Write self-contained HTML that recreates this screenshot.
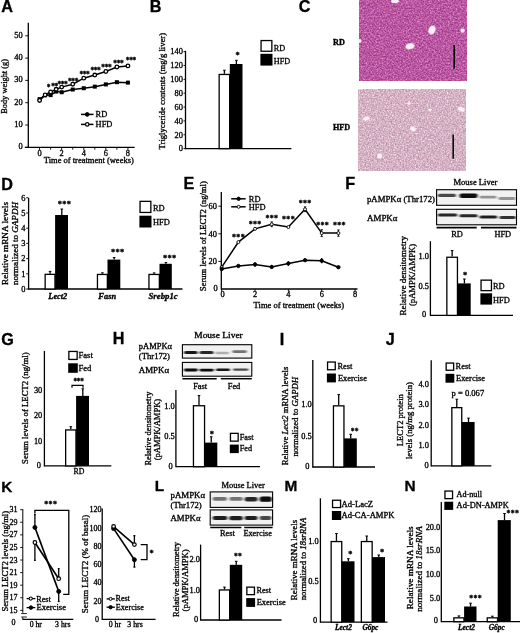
<!DOCTYPE html>
<html lang="en">
<head>
<meta charset="utf-8">
<title>Figure</title>
<style>
html,body{margin:0;padding:0;background:#fff;}
body{width:520px;height:633px;overflow:hidden;}
svg{display:block;}
svg text{stroke:#000;stroke-width:0.32px;}
svg{font-family:"Liberation Serif","Times New Roman",serif;font-size:8.4px;fill:#000;}
</style>
</head>
<body>
<svg width="520" height="633" viewBox="0 0 520 633">
<defs>
<filter id="b06" x="-30%" y="-30%" width="160%" height="160%"><feGaussianBlur stdDeviation="0.6"/></filter>
<filter id="b08" x="-20%" y="-60%" width="140%" height="220%"><feGaussianBlur stdDeviation="1.0 0.55"/></filter>
<filter id="nzA" x="0" y="0" width="100%" height="100%" color-interpolation-filters="sRGB">
<feTurbulence type="fractalNoise" baseFrequency="0.62" numOctaves="3" seed="7"/>
<feColorMatrix type="matrix" values="1.55 0 0 0 -0.275  1.55 0 0 0 -0.275  1.55 0 0 0 -0.275  0 0 0 0 1"/>
<feComponentTransfer>
<feFuncR type="table" tableValues="0.557 0.733 0.902"/>
<feFuncG type="table" tableValues="0.196 0.337 0.549"/>
<feFuncB type="table" tableValues="0.525 0.631 0.800"/>
</feComponentTransfer>
</filter>
<filter id="nzB" x="0" y="0" width="100%" height="100%" color-interpolation-filters="sRGB">
<feTurbulence type="fractalNoise" baseFrequency="0.66" numOctaves="3" seed="3"/>
<feColorMatrix type="matrix" values="1.5 0 0 0 -0.250  1.5 0 0 0 -0.250  1.5 0 0 0 -0.250  0 0 0 0 1"/>
<feComponentTransfer>
<feFuncR type="table" tableValues="0.714 0.835 0.965"/>
<feFuncG type="table" tableValues="0.541 0.698 0.886"/>
<feFuncB type="table" tableValues="0.659 0.765 0.914"/>
</feComponentTransfer>
</filter>

</defs>
<rect x="0" y="0" width="520" height="633" fill="#fff"/>
<g id="fig">
<!-- panel_C -->
<g>
<text x="298.8" y="12" font-size="16.2" font-weight="bold" font-family="'Liberation Sans',Arial,sans-serif">C</text>
<text x="333" y="45.2" font-size="8.2" font-weight="bold">RD</text>
<text x="333" y="129.9" font-size="8.2" font-weight="bold">HFD</text>
<rect x="359" y="0" width="107.5" height="80.3" fill="#c163ad"/>
<rect x="359" y="0" width="107.5" height="80.3" filter="url(#nzA)"/>
<ellipse cx="432" cy="30" rx="3.4" ry="4.6" fill="#fbeef6" transform="rotate(25 432 30)" filter="url(#b06)"/>
<ellipse cx="410" cy="46.2" rx="4.6" ry="3.0" fill="#fbeef6" transform="rotate(-10 410 46.2)" filter="url(#b06)"/>
<ellipse cx="462.6" cy="30.6" rx="2.2" ry="2.2" fill="#fbeef6" transform="rotate(0 462.6 30.6)" filter="url(#b06)"/>
<ellipse cx="395" cy="1.2" rx="4" ry="1.8" fill="#fbeef6" transform="rotate(0 395 1.2)" filter="url(#b06)"/>
<ellipse cx="360" cy="41" rx="1.5" ry="2" fill="#fbeef6" transform="rotate(0 360 41)" filter="url(#b06)"/>
<line x1="454.2" y1="45" x2="454.2" y2="68.8" stroke="#000" stroke-width="1.5"/>
<rect x="358.2" y="89.5" width="107.8" height="80.7" fill="#dcb9cb"/>
<rect x="358.2" y="89.5" width="107.8" height="80.7" filter="url(#nzB)"/>
<ellipse cx="366.4" cy="118.6" rx="3.4" ry="2.0" fill="#fbf1f4" transform="rotate(-15 366.4 118.6)" filter="url(#b06)"/>
<ellipse cx="413" cy="128.8" rx="3.0" ry="2.4" fill="#fbf1f4" transform="rotate(20 413 128.8)" filter="url(#b06)"/>
<ellipse cx="461.4" cy="109.2" rx="3.6" ry="2.2" fill="#fbf1f4" transform="rotate(25 461.4 109.2)" filter="url(#b06)"/>
<ellipse cx="379.6" cy="155.8" rx="2.6" ry="2.6" fill="#fbf1f4" transform="rotate(0 379.6 155.8)" filter="url(#b06)"/>
<ellipse cx="409" cy="103.5" rx="1.6" ry="1.3" fill="#fbf1f4" transform="rotate(0 409 103.5)" filter="url(#b06)"/>
<ellipse cx="430" cy="110" rx="1.5" ry="1.3" fill="#fbf1f4" transform="rotate(0 430 110)" filter="url(#b06)"/>
<line x1="453.2" y1="134.5" x2="453.2" y2="158.8" stroke="#000" stroke-width="1.5"/>
</g>
<!-- panel_A -->
<g>
<text x="1.2" y="12.2" font-size="16.2" font-weight="bold" font-family="'Liberation Sans',Arial,sans-serif">A</text>
<line x1="28.3" y1="22.8" x2="28.3" y2="147.95" stroke="#000" stroke-width="1.3"/>
<line x1="25.2" y1="147.3" x2="28.3" y2="147.3" stroke="#000" stroke-width="0.9"/>
<line x1="25.2" y1="125" x2="28.3" y2="125" stroke="#000" stroke-width="0.9"/>
<line x1="25.2" y1="102.7" x2="28.3" y2="102.7" stroke="#000" stroke-width="0.9"/>
<line x1="25.2" y1="80.4" x2="28.3" y2="80.4" stroke="#000" stroke-width="0.9"/>
<line x1="25.2" y1="58.1" x2="28.3" y2="58.1" stroke="#000" stroke-width="0.9"/>
<line x1="25.2" y1="35.8" x2="28.3" y2="35.8" stroke="#000" stroke-width="0.9"/>
<text x="22.7" y="149.27" text-anchor="end">0</text>
<text x="22.7" y="126.97" text-anchor="end">10</text>
<text x="22.7" y="104.67" text-anchor="end">20</text>
<text x="22.7" y="82.37" text-anchor="end">30</text>
<text x="22.7" y="60.07" text-anchor="end">40</text>
<text x="22.7" y="37.77" text-anchor="end">50</text>
<line x1="24.8" y1="147.3" x2="134.6" y2="147.3" stroke="#000" stroke-width="1.3"/>
<line x1="39.6" y1="147.3" x2="39.6" y2="150.3" stroke="#000" stroke-width="0.9"/>
<text x="39.6" y="156.4" text-anchor="middle">0</text>
<line x1="61.68" y1="147.3" x2="61.68" y2="150.3" stroke="#000" stroke-width="0.9"/>
<text x="61.68" y="156.4" text-anchor="middle">2</text>
<line x1="83.76" y1="147.3" x2="83.76" y2="150.3" stroke="#000" stroke-width="0.9"/>
<text x="83.76" y="156.4" text-anchor="middle">4</text>
<line x1="105.84" y1="147.3" x2="105.84" y2="150.3" stroke="#000" stroke-width="0.9"/>
<text x="105.84" y="156.4" text-anchor="middle">6</text>
<line x1="127.92" y1="147.3" x2="127.92" y2="150.3" stroke="#000" stroke-width="0.9"/>
<text x="127.92" y="156.4" text-anchor="middle">8</text>
<line x1="50.64" y1="147.3" x2="50.64" y2="149.7" stroke="#000" stroke-width="0.9"/>
<line x1="72.72" y1="147.3" x2="72.72" y2="149.7" stroke="#000" stroke-width="0.9"/>
<line x1="94.8" y1="147.3" x2="94.8" y2="149.7" stroke="#000" stroke-width="0.9"/>
<line x1="116.88" y1="147.3" x2="116.88" y2="149.7" stroke="#000" stroke-width="0.9"/>
<text x="43.8" y="163.1" textLength="90" lengthAdjust="spacingAndGlyphs">Time of treatment (weeks)</text>
<text transform="translate(4.9,86.4) rotate(-90)" y="2.44" text-anchor="middle">Body weight (g)</text>
<polyline points="39.6,99.13 45.12,95.34 50.64,95.12 56.16,91.55 61.68,92.22 72.72,89.54 83.76,88.21 94.8,86.64 105.84,84.41 116.88,82.18 127.92,82.63" fill="none" stroke="#000" stroke-width="1.5"/>
<polyline points="39.6,100.47 45.12,94.9 50.64,92 56.16,89.32 61.68,87.09 72.72,84.19 83.76,78.17 94.8,75.05 105.84,71.48 116.88,67.02 127.92,65.91" fill="none" stroke="#000" stroke-width="1.5"/>
<rect x="37.6" y="97.13" width="4" height="4" fill="#000"/>
<rect x="43.12" y="93.34" width="4" height="4" fill="#000"/>
<rect x="48.64" y="93.12" width="4" height="4" fill="#000"/>
<rect x="54.16" y="89.55" width="4" height="4" fill="#000"/>
<rect x="59.68" y="90.22" width="4" height="4" fill="#000"/>
<rect x="70.72" y="87.54" width="4" height="4" fill="#000"/>
<rect x="81.76" y="86.21" width="4" height="4" fill="#000"/>
<rect x="92.8" y="84.64" width="4" height="4" fill="#000"/>
<rect x="103.84" y="82.41" width="4" height="4" fill="#000"/>
<rect x="114.88" y="80.18" width="4" height="4" fill="#000"/>
<rect x="125.92" y="80.63" width="4" height="4" fill="#000"/>
<circle cx="39.6" cy="100.47" r="1.8" fill="#fff" stroke="#000" stroke-width="1.3"/>
<circle cx="45.12" cy="94.9" r="1.8" fill="#fff" stroke="#000" stroke-width="1.3"/>
<circle cx="50.64" cy="92" r="1.8" fill="#fff" stroke="#000" stroke-width="1.3"/>
<circle cx="56.16" cy="89.32" r="1.8" fill="#fff" stroke="#000" stroke-width="1.3"/>
<circle cx="61.68" cy="87.09" r="1.8" fill="#fff" stroke="#000" stroke-width="1.3"/>
<circle cx="72.72" cy="84.19" r="1.8" fill="#fff" stroke="#000" stroke-width="1.3"/>
<circle cx="83.76" cy="78.17" r="1.8" fill="#fff" stroke="#000" stroke-width="1.3"/>
<circle cx="94.8" cy="75.05" r="1.8" fill="#fff" stroke="#000" stroke-width="1.3"/>
<circle cx="105.84" cy="71.48" r="1.8" fill="#fff" stroke="#000" stroke-width="1.3"/>
<circle cx="116.88" cy="67.02" r="1.8" fill="#fff" stroke="#000" stroke-width="1.3"/>
<circle cx="127.92" cy="65.91" r="1.8" fill="#fff" stroke="#000" stroke-width="1.3"/>
<text x="48.7" y="90.07" font-size="7.4" text-anchor="middle" font-weight="bold">*</text>
<text x="54.5" y="89.07" font-size="7.4" text-anchor="middle" font-weight="bold" letter-spacing="-0.4">**</text>
<text x="62.4" y="86.97" font-size="7.4" text-anchor="middle" font-weight="bold" letter-spacing="-0.4">***</text>
<text x="73" y="83.67" font-size="7.4" text-anchor="middle" font-weight="bold" letter-spacing="-0.4">***</text>
<text x="84.4" y="76.97" font-size="7.4" text-anchor="middle" font-weight="bold" letter-spacing="-0.4">***</text>
<text x="95.4" y="73.17" font-size="7.4" text-anchor="middle" font-weight="bold" letter-spacing="-0.4">***</text>
<text x="106.3" y="69.87" font-size="7.4" text-anchor="middle" font-weight="bold" letter-spacing="-0.4">***</text>
<text x="118.3" y="65.77" font-size="7.4" text-anchor="middle" font-weight="bold" letter-spacing="-0.4">***</text>
<text x="130.8" y="63.27" font-size="7.4" text-anchor="middle" font-weight="bold" letter-spacing="-0.4">***</text>
<line x1="81" y1="114.4" x2="93.5" y2="114.4" stroke="#000" stroke-width="1.5"/>
<circle cx="87.2" cy="114.4" r="1.9" fill="#000" stroke="#000" stroke-width="0.9"/>
<text x="95.6" y="117.2">RD</text>
<line x1="81" y1="124.4" x2="93.5" y2="124.4" stroke="#000" stroke-width="1.5"/>
<circle cx="87.2" cy="124.4" r="1.7" fill="#fff" stroke="#000" stroke-width="1.2"/>
<text x="95.6" y="127.2">HFD</text>
</g>
<!-- panel_B -->
<g>
<text x="149.8" y="12.2" font-size="16.2" font-weight="bold" font-family="'Liberation Sans',Arial,sans-serif">B</text>
<line x1="185.5" y1="50.8" x2="185.5" y2="149.25" stroke="#000" stroke-width="1.3"/>
<line x1="183.5" y1="148.6" x2="185.5" y2="148.6" stroke="#000" stroke-width="0.9"/>
<text x="182.9" y="151.37" text-anchor="end">0</text>
<line x1="183.5" y1="134.75" x2="185.5" y2="134.75" stroke="#000" stroke-width="0.9"/>
<text x="182.9" y="137.52" text-anchor="end">20</text>
<line x1="183.5" y1="120.9" x2="185.5" y2="120.9" stroke="#000" stroke-width="0.9"/>
<text x="182.9" y="123.67" text-anchor="end">40</text>
<line x1="183.5" y1="107.05" x2="185.5" y2="107.05" stroke="#000" stroke-width="0.9"/>
<text x="182.9" y="109.82" text-anchor="end">60</text>
<line x1="183.5" y1="93.2" x2="185.5" y2="93.2" stroke="#000" stroke-width="0.9"/>
<text x="182.9" y="95.97" text-anchor="end">80</text>
<line x1="183.5" y1="79.35" x2="185.5" y2="79.35" stroke="#000" stroke-width="0.9"/>
<text x="182.9" y="82.12" text-anchor="end">100</text>
<line x1="183.5" y1="65.5" x2="185.5" y2="65.5" stroke="#000" stroke-width="0.9"/>
<text x="182.9" y="68.27" text-anchor="end">120</text>
<line x1="183.5" y1="51.65" x2="185.5" y2="51.65" stroke="#000" stroke-width="0.9"/>
<text x="182.9" y="54.42" text-anchor="end">140</text>
<line x1="185.5" y1="148.6" x2="291.4" y2="148.6" stroke="#000" stroke-width="1.3"/>
<line x1="224.4" y1="70.2" x2="224.4" y2="73.8" stroke="#000" stroke-width="1.3"/>
<line x1="223.1" y1="70.2" x2="225.7" y2="70.2" stroke="#000" stroke-width="1"/>
<rect x="219.15" y="74.45" width="10.5" height="74.15" fill="#fff" stroke="#000" stroke-width="1.3"/>
<line x1="236.4" y1="60.3" x2="236.4" y2="64" stroke="#000" stroke-width="1.3"/>
<line x1="235.1" y1="60.3" x2="237.7" y2="60.3" stroke="#000" stroke-width="1"/>
<rect x="229.8" y="64" width="12.7" height="84.6" fill="#000"/>
<text x="237.6" y="57.82" text-anchor="middle" font-weight="bold">*</text>
<text transform="translate(162.9,91.2) rotate(-90)" y="2.44" text-anchor="middle" textLength="116.5" lengthAdjust="spacingAndGlyphs">Triglyceride contents (mg/g liver)</text>
<rect x="261.05" y="40.55" width="10.8" height="10.7" fill="#fff" stroke="#000" stroke-width="1.3"/>
<rect x="260.4" y="53.8" width="12.1" height="11.8" fill="#000"/>
<text x="273.8" y="50.8" font-size="8.2">RD</text>
<text x="273.8" y="64.4" font-size="8.2">HFD</text>
</g>
<!-- panel_D -->
<g>
<text x="1.2" y="189.6" font-size="16.2" font-weight="bold" font-family="'Liberation Sans',Arial,sans-serif">D</text>
<line x1="28.6" y1="198" x2="28.6" y2="289.65" stroke="#000" stroke-width="1.3"/>
<line x1="26.2" y1="289" x2="28.6" y2="289" stroke="#000" stroke-width="0.9"/>
<text x="25.4" y="291.77" text-anchor="end">0</text>
<line x1="26.2" y1="273.8" x2="28.6" y2="273.8" stroke="#000" stroke-width="0.9"/>
<text x="25.4" y="276.57" text-anchor="end">1</text>
<line x1="26.2" y1="258.6" x2="28.6" y2="258.6" stroke="#000" stroke-width="0.9"/>
<text x="25.4" y="261.37" text-anchor="end">2</text>
<line x1="26.2" y1="243.4" x2="28.6" y2="243.4" stroke="#000" stroke-width="0.9"/>
<text x="25.4" y="246.17" text-anchor="end">3</text>
<line x1="26.2" y1="228.2" x2="28.6" y2="228.2" stroke="#000" stroke-width="0.9"/>
<text x="25.4" y="230.97" text-anchor="end">4</text>
<line x1="26.2" y1="213" x2="28.6" y2="213" stroke="#000" stroke-width="0.9"/>
<text x="25.4" y="215.77" text-anchor="end">5</text>
<line x1="26.2" y1="197.8" x2="28.6" y2="197.8" stroke="#000" stroke-width="0.9"/>
<text x="25.4" y="200.57" text-anchor="end">6</text>
<line x1="28.6" y1="289" x2="182.5" y2="289" stroke="#000" stroke-width="1.3"/>
<text transform="translate(5.6,243.5) rotate(-90)" y="2.44" text-anchor="middle" textLength="83" lengthAdjust="spacingAndGlyphs">Relative mRNA levels</text>
<text transform="translate(15.6,243.5) rotate(-90)" y="2.44" text-anchor="middle" textLength="83" lengthAdjust="spacingAndGlyphs">normalized to <tspan font-style="italic">GAPDH</tspan></text>
<line x1="50.05" y1="271.4" x2="50.05" y2="273.7" stroke="#000" stroke-width="1.3"/>
<line x1="48.75" y1="271.4" x2="51.35" y2="271.4" stroke="#000" stroke-width="1"/>
<rect x="45.15" y="274.35" width="9.8" height="14.65" fill="#fff" stroke="#000" stroke-width="1.3"/>
<line x1="61.8" y1="209" x2="61.8" y2="215" stroke="#000" stroke-width="1.3"/>
<line x1="60.5" y1="209" x2="63.1" y2="209" stroke="#000" stroke-width="1"/>
<rect x="55.1" y="215" width="12.9" height="74" fill="#000"/>
<text x="64.55" y="207.12" text-anchor="middle" font-weight="bold" letter-spacing="0.3">***</text>
<line x1="102.4" y1="272.8" x2="102.4" y2="273.8" stroke="#000" stroke-width="1.3"/>
<line x1="101.1" y1="272.8" x2="103.7" y2="272.8" stroke="#000" stroke-width="1"/>
<rect x="97.45" y="274.45" width="9.9" height="14.55" fill="#fff" stroke="#000" stroke-width="1.3"/>
<line x1="114.15" y1="257.6" x2="114.15" y2="259.6" stroke="#000" stroke-width="1.3"/>
<line x1="112.85" y1="257.6" x2="115.45" y2="257.6" stroke="#000" stroke-width="1"/>
<rect x="107.5" y="259.6" width="12.8" height="29.4" fill="#000"/>
<text x="117.65" y="255.32" text-anchor="middle" font-weight="bold" letter-spacing="0.3">***</text>
<line x1="154.15" y1="272.9" x2="154.15" y2="273.8" stroke="#000" stroke-width="1.3"/>
<line x1="152.85" y1="272.9" x2="155.45" y2="272.9" stroke="#000" stroke-width="1"/>
<rect x="148.95" y="274.45" width="10.4" height="14.55" fill="#fff" stroke="#000" stroke-width="1.3"/>
<line x1="165.9" y1="262.6" x2="165.9" y2="263.8" stroke="#000" stroke-width="1.3"/>
<line x1="164.6" y1="262.6" x2="167.2" y2="262.6" stroke="#000" stroke-width="1"/>
<rect x="159.5" y="263.8" width="12.3" height="25.2" fill="#000"/>
<text x="169.65" y="260.82" text-anchor="middle" font-weight="bold" letter-spacing="0.3">***</text>
<text x="48.3" y="299.1" font-size="8" font-weight="bold" font-style="italic" textLength="19" lengthAdjust="spacingAndGlyphs">Lect2</text>
<text x="98.3" y="299.1" font-size="8" font-weight="bold" font-style="italic" textLength="17.8" lengthAdjust="spacingAndGlyphs">Fasn</text>
<text x="148.5" y="299.1" font-size="8" font-weight="bold" font-style="italic" textLength="29.2" lengthAdjust="spacingAndGlyphs">Srebp1c</text>
<rect x="140.05" y="201.35" width="10.8" height="11.1" fill="#fff" stroke="#000" stroke-width="1.3"/>
<rect x="139.4" y="215.7" width="12.1" height="11.8" fill="#000"/>
<text x="153" y="211.2">RD</text>
<text x="153" y="225">HFD</text>
</g>
<!-- panel_E -->
<g>
<text x="183.5" y="189.4" font-size="16.2" font-weight="bold" font-family="'Liberation Sans',Arial,sans-serif">E</text>
<line x1="221.3" y1="192" x2="221.3" y2="289.65" stroke="#000" stroke-width="1.3"/>
<line x1="218.3" y1="261.4" x2="221.3" y2="261.4" stroke="#000" stroke-width="0.9"/>
<text x="216.9" y="264.17" text-anchor="end">20</text>
<line x1="218.3" y1="233.8" x2="221.3" y2="233.8" stroke="#000" stroke-width="0.9"/>
<text x="216.9" y="236.57" text-anchor="end">40</text>
<line x1="218.3" y1="206.2" x2="221.3" y2="206.2" stroke="#000" stroke-width="0.9"/>
<text x="216.9" y="208.97" text-anchor="end">60</text>
<text x="217.7" y="290.6" text-anchor="end">0</text>
<line x1="221.3" y1="289" x2="357.5" y2="289" stroke="#000" stroke-width="1.3"/>
<line x1="221.7" y1="289" x2="221.7" y2="291.6" stroke="#000" stroke-width="0.9"/>
<text x="222.7" y="297.2" text-anchor="middle">0</text>
<line x1="255.04" y1="289" x2="255.04" y2="291.6" stroke="#000" stroke-width="0.9"/>
<text x="255.04" y="297.2" text-anchor="middle">2</text>
<line x1="288.38" y1="289" x2="288.38" y2="291.6" stroke="#000" stroke-width="0.9"/>
<text x="288.38" y="297.2" text-anchor="middle">4</text>
<line x1="321.72" y1="289" x2="321.72" y2="291.6" stroke="#000" stroke-width="0.9"/>
<text x="321.72" y="297.2" text-anchor="middle">6</text>
<line x1="355.06" y1="289" x2="355.06" y2="291.6" stroke="#000" stroke-width="0.9"/>
<text x="355.06" y="297.2" text-anchor="middle">8</text>
<text x="253.6" y="307.9" textLength="90.6" lengthAdjust="spacingAndGlyphs">Time of treatment (weeks)</text>
<text transform="translate(203.2,236.2) rotate(-90)" y="2.44" text-anchor="middle" textLength="110" lengthAdjust="spacingAndGlyphs">Serum levels of LECT2 (ng/ml)</text>
<line x1="271.71" y1="221.88" x2="271.71" y2="226.68" stroke="#000" stroke-width="1"/>
<line x1="270.51" y1="221.88" x2="272.91" y2="221.88" stroke="#000" stroke-width="0.8"/>
<line x1="270.51" y1="226.68" x2="272.91" y2="226.68" stroke="#000" stroke-width="0.8"/>
<line x1="305.05" y1="206.84" x2="305.05" y2="211.64" stroke="#000" stroke-width="1"/>
<line x1="303.85" y1="206.84" x2="306.25" y2="206.84" stroke="#000" stroke-width="0.8"/>
<line x1="303.85" y1="211.64" x2="306.25" y2="211.64" stroke="#000" stroke-width="0.8"/>
<line x1="321.72" y1="229.61" x2="321.72" y2="236.61" stroke="#000" stroke-width="1"/>
<line x1="320.52" y1="229.61" x2="322.92" y2="229.61" stroke="#000" stroke-width="0.8"/>
<line x1="320.52" y1="236.61" x2="322.92" y2="236.61" stroke="#000" stroke-width="0.8"/>
<line x1="338.39" y1="229.91" x2="338.39" y2="236.31" stroke="#000" stroke-width="1"/>
<line x1="337.19" y1="229.91" x2="339.59" y2="229.91" stroke="#000" stroke-width="0.8"/>
<line x1="337.19" y1="236.31" x2="339.59" y2="236.31" stroke="#000" stroke-width="0.8"/>
<line x1="255.04" y1="262.24" x2="255.04" y2="266.64" stroke="#000" stroke-width="1.2"/>
<line x1="271.71" y1="265.12" x2="271.71" y2="268.72" stroke="#000" stroke-width="1.2"/>
<line x1="288.38" y1="261.27" x2="288.38" y2="265.67" stroke="#000" stroke-width="1.2"/>
<line x1="321.72" y1="258.11" x2="321.72" y2="263.31" stroke="#000" stroke-width="1.2"/>
<polyline points="221.7,267.2 238.37,242.08 255.04,228.83 271.71,224.28 288.38,227.04 305.05,209.24 321.72,233.11 338.39,233.11" fill="none" stroke="#000" stroke-width="1.5"/>
<polyline points="221.7,268.99 238.37,265.95 255.04,264.44 271.71,266.92 288.38,263.47 305.05,260.16 321.72,260.71 338.39,267.2" fill="none" stroke="#000" stroke-width="1.5"/>
<circle cx="221.7" cy="267.2" r="1.5" fill="#fff" stroke="#000" stroke-width="0.9"/>
<circle cx="238.37" cy="242.08" r="1.5" fill="#fff" stroke="#000" stroke-width="0.9"/>
<circle cx="255.04" cy="228.83" r="1.5" fill="#fff" stroke="#000" stroke-width="0.9"/>
<circle cx="271.71" cy="224.28" r="1.5" fill="#fff" stroke="#000" stroke-width="0.9"/>
<circle cx="288.38" cy="227.04" r="1.5" fill="#fff" stroke="#000" stroke-width="0.9"/>
<circle cx="305.05" cy="209.24" r="1.5" fill="#fff" stroke="#000" stroke-width="0.9"/>
<circle cx="321.72" cy="233.11" r="1.5" fill="#fff" stroke="#000" stroke-width="0.9"/>
<circle cx="338.39" cy="233.11" r="1.5" fill="#fff" stroke="#000" stroke-width="0.9"/>
<circle cx="221.7" cy="268.99" r="1.7" fill="#000" stroke="#000" stroke-width="0.9"/>
<circle cx="238.37" cy="265.95" r="1.7" fill="#000" stroke="#000" stroke-width="0.9"/>
<circle cx="255.04" cy="264.44" r="1.7" fill="#000" stroke="#000" stroke-width="0.9"/>
<circle cx="271.71" cy="266.92" r="1.7" fill="#000" stroke="#000" stroke-width="0.9"/>
<circle cx="288.38" cy="263.47" r="1.7" fill="#000" stroke="#000" stroke-width="0.9"/>
<circle cx="305.05" cy="260.16" r="1.7" fill="#000" stroke="#000" stroke-width="0.9"/>
<circle cx="321.72" cy="260.71" r="1.7" fill="#000" stroke="#000" stroke-width="0.9"/>
<circle cx="338.39" cy="267.2" r="1.7" fill="#000" stroke="#000" stroke-width="0.9"/>
<text x="238.52" y="240.2" font-size="8" text-anchor="middle" font-weight="bold" letter-spacing="0.3">***</text>
<text x="255.19" y="227" font-size="8" text-anchor="middle" font-weight="bold" letter-spacing="0.3">***</text>
<text x="271.86" y="221.2" font-size="8" text-anchor="middle" font-weight="bold" letter-spacing="0.3">***</text>
<text x="288.53" y="222.4" font-size="8" text-anchor="middle" font-weight="bold" letter-spacing="0.3">***</text>
<text x="305.2" y="206.2" font-size="8" text-anchor="middle" font-weight="bold" letter-spacing="0.3">***</text>
<text x="322.67" y="228.2" font-size="8" text-anchor="middle" font-weight="bold" letter-spacing="0.3">***</text>
<text x="339.34" y="228.2" font-size="8" text-anchor="middle" font-weight="bold" letter-spacing="0.3">***</text>
<line x1="231.2" y1="198.8" x2="245.6" y2="198.8" stroke="#000" stroke-width="1.5"/>
<circle cx="238.6" cy="198.8" r="1.7" fill="#000" stroke="#000" stroke-width="0.9"/>
<text x="248.8" y="201.6">RD</text>
<line x1="231.2" y1="206.8" x2="245.6" y2="206.8" stroke="#000" stroke-width="1.5"/>
<circle cx="238.6" cy="206.8" r="1.5" fill="#fff" stroke="#000" stroke-width="0.9"/>
<text x="248.8" y="209.6">HFD</text>
</g>
<!-- panel_F -->
<g>
<text x="345.2" y="189.4" font-size="16.2" font-weight="bold" font-family="'Liberation Sans',Arial,sans-serif">F</text>
<text x="367" y="202.4" textLength="68" lengthAdjust="spacingAndGlyphs">pAMPKα (Thr172)</text>
<text x="367" y="221.2" textLength="30.5" lengthAdjust="spacingAndGlyphs">AMPKα</text>
<text x="475.4" y="184.6" text-anchor="middle" textLength="44" lengthAdjust="spacingAndGlyphs">Mouse Liver</text>
<rect x="436.6" y="189.7" width="79.9" height="15.6" fill="#f1f1f1"/>
<rect x="437.8" y="193.7" width="18.2" height="3.4" rx="1.7" fill="rgb(71,71,71)" filter="url(#b08)"/>
<rect x="459.4" y="193.6" width="18.2" height="4.4" rx="2.2" fill="rgb(12,12,12)" filter="url(#b08)"/>
<rect x="479.5" y="195.8" width="16.9" height="2.8" rx="1.4" fill="rgb(147,147,147)" filter="url(#b08)"/>
<rect x="498.5" y="197.1" width="16.9" height="2.8" rx="1.4" fill="rgb(147,147,147)" filter="url(#b08)"/>
<rect x="436.6" y="189.7" width="79.9" height="15.6" fill="none" stroke="#000" stroke-width="1.1"/>
<rect x="436.6" y="209.3" width="79.9" height="15.5" fill="#f1f1f1"/>
<rect x="437.8" y="213.6" width="19.5" height="3" rx="1.5" fill="rgb(38,38,38)" filter="url(#b08)"/>
<rect x="459.4" y="214.2" width="18.2" height="3" rx="1.5" fill="rgb(38,38,38)" filter="url(#b08)"/>
<rect x="479.5" y="215.4" width="17.7" height="3.2" rx="1.6" fill="rgb(30,30,30)" filter="url(#b08)"/>
<rect x="499.4" y="215.9" width="16.4" height="3" rx="1.5" fill="rgb(51,51,51)" filter="url(#b08)"/>
<rect x="436.6" y="209.3" width="79.9" height="15.5" fill="none" stroke="#000" stroke-width="1.1"/>
<line x1="436.6" y1="227.6" x2="476.7" y2="227.6" stroke="#000" stroke-width="1.6"/>
<line x1="481" y1="227.6" x2="516.5" y2="227.6" stroke="#000" stroke-width="1.6"/>
<text x="457" y="237.2" text-anchor="middle">RD</text>
<text x="502.8" y="237.2" text-anchor="middle">HFD</text>
<line x1="430.4" y1="241.2" x2="430.4" y2="316.05" stroke="#000" stroke-width="1.3"/>
<text x="429" y="259.17" text-anchor="end">1.0</text>
<text x="429" y="288.67" text-anchor="end">0.5</text>
<text x="426.2" y="317.4" text-anchor="end">0</text>
<line x1="430.4" y1="315.4" x2="513" y2="315.4" stroke="#000" stroke-width="1.3"/>
<line x1="452.15" y1="250.6" x2="452.15" y2="256.6" stroke="#000" stroke-width="1.3"/>
<line x1="450.85" y1="250.6" x2="453.45" y2="250.6" stroke="#000" stroke-width="1"/>
<rect x="446.85" y="257.25" width="10.6" height="58.15" fill="#fff" stroke="#000" stroke-width="1.3"/>
<line x1="464.4" y1="279" x2="464.4" y2="283.4" stroke="#000" stroke-width="1.3"/>
<line x1="463.1" y1="279" x2="465.7" y2="279" stroke="#000" stroke-width="1"/>
<rect x="457.6" y="283.4" width="13.1" height="32" fill="#000"/>
<text x="465.2" y="277.82" text-anchor="middle" font-weight="bold">*</text>
<text transform="translate(403.2,275.8) rotate(-90)" y="2.44" text-anchor="middle" textLength="79.5" lengthAdjust="spacingAndGlyphs">Relative densitometry</text>
<text transform="translate(412.6,275) rotate(-90)" y="2.44" text-anchor="middle" textLength="62" lengthAdjust="spacingAndGlyphs">(pAMPK/AMPK)</text>
<rect x="481.05" y="280.15" width="10.4" height="10.5" fill="#fff" stroke="#000" stroke-width="1.3"/>
<rect x="480.4" y="293.3" width="11.7" height="11.3" fill="#000"/>
<text x="493" y="289.4">RD</text>
<text x="493" y="302.8">HFD</text>
</g>
<!-- panel_G -->
<g>
<text x="1.2" y="345.4" font-size="16.2" font-weight="bold" font-family="'Liberation Sans',Arial,sans-serif">G</text>
<line x1="44.4" y1="350.9" x2="44.4" y2="466.55" stroke="#000" stroke-width="1.3"/>
<text x="42.3" y="443.87" text-anchor="end">10</text>
<text x="42.3" y="418.47" text-anchor="end">20</text>
<text x="42.3" y="393.07" text-anchor="end">30</text>
<text x="41" y="467.9" text-anchor="end">0</text>
<line x1="44.4" y1="465.9" x2="111.3" y2="465.9" stroke="#000" stroke-width="1.3"/>
<line x1="70.8" y1="426.7" x2="70.8" y2="429.3" stroke="#000" stroke-width="1.3"/>
<line x1="69.5" y1="426.7" x2="72.1" y2="426.7" stroke="#000" stroke-width="1"/>
<rect x="65.65" y="429.95" width="10.3" height="35.95" fill="#fff" stroke="#000" stroke-width="1.3"/>
<line x1="82.8" y1="388.8" x2="82.8" y2="395.9" stroke="#000" stroke-width="1.3"/>
<line x1="81.5" y1="388.8" x2="84.1" y2="388.8" stroke="#000" stroke-width="1"/>
<rect x="76.1" y="395.9" width="12.9" height="70" fill="#000"/>
<polyline points="72,387.8 72,385.4 83,385.4 83,387.8" fill="none" stroke="#000" stroke-width="1.2"/>
<text x="78.5" y="383.76" font-size="7.2" text-anchor="middle" font-weight="bold" letter-spacing="-0.2">***</text>
<rect x="68.85" y="351.45" width="8.3" height="8" fill="#fff" stroke="#000" stroke-width="1.3"/>
<rect x="68.2" y="363.3" width="9.6" height="9.5" fill="#000"/>
<text x="78.5" y="357.7" font-size="8.6">Fast</text>
<text x="78.5" y="370.6" font-size="8.6">Fed</text>
<text x="79" y="474" font-size="7.8" text-anchor="middle">RD</text>
<text transform="translate(25.5,408.2) rotate(-90)" y="2.44" text-anchor="middle" textLength="111.5" lengthAdjust="spacingAndGlyphs">Serum levels of LECT2 (ng/ml)</text>
</g>
<!-- panel_H -->
<g>
<text x="112.8" y="344.4" font-size="16.2" font-weight="bold" font-family="'Liberation Sans',Arial,sans-serif">H</text>
<text x="218.5" y="338" text-anchor="middle" textLength="48.5" lengthAdjust="spacingAndGlyphs">Mouse Liver</text>
<text x="138.8" y="348.8" textLength="33.2" lengthAdjust="spacingAndGlyphs">pAMPKα</text>
<text x="138.8" y="358.6" textLength="31.2" lengthAdjust="spacingAndGlyphs">(Thr172)</text>
<text x="138.8" y="372.8" textLength="30.3" lengthAdjust="spacingAndGlyphs">AMPKα</text>
<rect x="182.4" y="344.7" width="69.4" height="13.4" fill="#f1f1f1"/>
<rect x="184" y="350.9" width="13.6" height="3.2" rx="1.6" fill="rgb(25,25,25)" filter="url(#b08)"/>
<rect x="199.5" y="350.9" width="14.1" height="3.2" rx="1.6" fill="rgb(38,38,38)" filter="url(#b08)"/>
<rect x="215.4" y="351.8" width="13.6" height="2.4" rx="1.2" fill="rgb(173,173,173)" filter="url(#b08)"/>
<rect x="232.4" y="350.3" width="14.4" height="2.6" rx="1.3" fill="rgb(114,114,114)" filter="url(#b08)"/>
<rect x="182.4" y="344.7" width="69.4" height="13.4" fill="none" stroke="#000" stroke-width="1.1"/>
<rect x="182.4" y="362.4" width="69.4" height="13.8" fill="#f1f1f1"/>
<rect x="184" y="368.6" width="13.8" height="2.8" rx="1.4" fill="rgb(12,12,12)" filter="url(#b08)"/>
<rect x="199.5" y="368.7" width="14.3" height="2.8" rx="1.4" fill="rgb(12,12,12)" filter="url(#b08)"/>
<rect x="216" y="368.5" width="14" height="2.6" rx="1.3" fill="rgb(25,25,25)" filter="url(#b08)"/>
<rect x="233" y="368.5" width="15.4" height="2.2" rx="1.1" fill="rgb(76,76,76)" filter="url(#b08)"/>
<rect x="182.4" y="362.4" width="69.4" height="13.8" fill="none" stroke="#000" stroke-width="1.1"/>
<line x1="182.4" y1="378.7" x2="216.7" y2="378.7" stroke="#000" stroke-width="1.5"/>
<line x1="220.8" y1="378.7" x2="251.8" y2="378.7" stroke="#000" stroke-width="1.5"/>
<text x="200.2" y="389.2" text-anchor="middle">Fast</text>
<text x="234" y="389.2" text-anchor="middle">Fed</text>
<line x1="175.9" y1="390" x2="175.9" y2="467.35" stroke="#000" stroke-width="1.3"/>
<text x="174.7" y="408.97" text-anchor="end">1.0</text>
<text x="174.7" y="439.22" text-anchor="end">0.5</text>
<text x="172.7" y="468.9" text-anchor="end">0</text>
<line x1="175.9" y1="466.7" x2="260" y2="466.7" stroke="#000" stroke-width="1.3"/>
<line x1="199" y1="395.6" x2="199" y2="405.1" stroke="#000" stroke-width="1.3"/>
<line x1="197.7" y1="395.6" x2="200.3" y2="395.6" stroke="#000" stroke-width="1"/>
<rect x="193.45" y="405.75" width="11.1" height="60.95" fill="#fff" stroke="#000" stroke-width="1.3"/>
<line x1="211.25" y1="436.8" x2="211.25" y2="442.6" stroke="#000" stroke-width="1.3"/>
<line x1="209.95" y1="436.8" x2="212.55" y2="436.8" stroke="#000" stroke-width="1"/>
<rect x="204.7" y="442.6" width="12.6" height="24.1" fill="#000"/>
<text x="211.8" y="437.12" text-anchor="middle" font-weight="bold">*</text>
<text transform="translate(148.5,428.6) rotate(-90)" y="2.44" text-anchor="middle" textLength="74" lengthAdjust="spacingAndGlyphs">Relative densitometry</text>
<text transform="translate(158,429.6) rotate(-90)" y="2.44" text-anchor="middle" textLength="61.5" lengthAdjust="spacingAndGlyphs">(pAMPK/AMPK)</text>
<rect x="230.45" y="433.35" width="7.7" height="7.8" fill="#fff" stroke="#000" stroke-width="1.3"/>
<rect x="229.8" y="444.6" width="9" height="8.5" fill="#000"/>
<text x="239.8" y="439.6" font-size="8.2">Fast</text>
<text x="239.8" y="451.3" font-size="8.2">Fed</text>
</g>
<!-- panel_I -->
<g>
<text x="279.8" y="344.6" font-size="16.2" font-weight="bold" font-family="'Liberation Sans',Arial,sans-serif">I</text>
<line x1="312.8" y1="360" x2="312.8" y2="467.65" stroke="#000" stroke-width="1.3"/>
<text x="311.8" y="407.37" text-anchor="end">1.0</text>
<text x="311.8" y="438.57" text-anchor="end">0.5</text>
<text x="309.4" y="469" text-anchor="end">0</text>
<line x1="312.8" y1="467" x2="375" y2="467" stroke="#000" stroke-width="1.3"/>
<line x1="338.7" y1="394.6" x2="338.7" y2="405.2" stroke="#000" stroke-width="1.3"/>
<line x1="337.4" y1="394.6" x2="340" y2="394.6" stroke="#000" stroke-width="1"/>
<rect x="333.45" y="405.85" width="10.5" height="61.15" fill="#fff" stroke="#000" stroke-width="1.3"/>
<line x1="350.7" y1="434.3" x2="350.7" y2="438.4" stroke="#000" stroke-width="1.3"/>
<line x1="349.4" y1="434.3" x2="352" y2="434.3" stroke="#000" stroke-width="1"/>
<rect x="344.1" y="438.4" width="12.7" height="28.6" fill="#000"/>
<text x="354.75" y="433.78" font-size="7.6" text-anchor="middle" font-weight="bold" letter-spacing="0.3">**</text>
<rect x="327.55" y="362.05" width="7.7" height="7.7" fill="#fff" stroke="#000" stroke-width="1.3"/>
<rect x="326.9" y="373.5" width="9" height="8.9" fill="#000"/>
<text x="337.5" y="368.5">Rest</text>
<text x="337.9" y="380.5" textLength="29" lengthAdjust="spacingAndGlyphs">Exercise</text>
<text transform="translate(285.6,416) rotate(-90)" y="2.44" text-anchor="middle" textLength="98.6" lengthAdjust="spacingAndGlyphs">Relative <tspan font-style="italic">Lect2</tspan> mRNA levels</text>
<text transform="translate(295.7,416.8) rotate(-90)" y="2.44" text-anchor="middle" textLength="79.6" lengthAdjust="spacingAndGlyphs">normalized to <tspan font-style="italic">GAPDH</tspan></text>
</g>
<!-- panel_J -->
<g>
<text x="385.8" y="344.8" font-size="16.2" font-weight="bold" font-family="'Liberation Sans',Arial,sans-serif">J</text>
<line x1="431.2" y1="360.2" x2="431.2" y2="466.55" stroke="#000" stroke-width="1.3"/>
<text x="428.9" y="448.22" text-anchor="end">1.0</text>
<text x="428.9" y="427.77" text-anchor="end">2.0</text>
<text x="428.9" y="407.32" text-anchor="end">3.0</text>
<text x="428.9" y="386.87" text-anchor="end">4.0</text>
<text x="428.6" y="467.9" text-anchor="end">0</text>
<line x1="431.2" y1="465.9" x2="491.4" y2="465.9" stroke="#000" stroke-width="1.3"/>
<line x1="456.8" y1="399.2" x2="456.8" y2="407" stroke="#000" stroke-width="1.3"/>
<line x1="455.5" y1="399.2" x2="458.1" y2="399.2" stroke="#000" stroke-width="1"/>
<rect x="451.85" y="407.65" width="9.9" height="58.25" fill="#fff" stroke="#000" stroke-width="1.3"/>
<line x1="468.5" y1="418.1" x2="468.5" y2="422" stroke="#000" stroke-width="1.3"/>
<line x1="467.2" y1="418.1" x2="469.8" y2="418.1" stroke="#000" stroke-width="1"/>
<rect x="461.9" y="422" width="12.7" height="43.9" fill="#000"/>
<text x="451.5" y="396.3" textLength="32.7" lengthAdjust="spacingAndGlyphs">p = 0.067</text>
<rect x="446.15" y="363.05" width="7.5" height="7.2" fill="#fff" stroke="#000" stroke-width="1.3"/>
<rect x="445.5" y="373.8" width="8.8" height="8.9" fill="#000"/>
<text x="455.6" y="369.2">Rest</text>
<text x="456" y="380.7" textLength="29" lengthAdjust="spacingAndGlyphs">Exercise</text>
<text transform="translate(400.3,420.2) rotate(-90)" y="2.44" text-anchor="middle" textLength="52" lengthAdjust="spacingAndGlyphs">LECT2 protein</text>
<text transform="translate(409.5,420.6) rotate(-90)" y="2.44" text-anchor="middle" textLength="77" lengthAdjust="spacingAndGlyphs">levels (ng/mg protein)</text>
</g>
<!-- panel_K -->
<g>
<text x="1.2" y="491.6" font-size="15.4" font-weight="bold" font-family="'Liberation Sans',Arial,sans-serif">K</text>
<line x1="22.8" y1="509.2" x2="22.8" y2="612.8" stroke="#000" stroke-width="1"/>
<line x1="22.8" y1="617.4" x2="22.8" y2="619.8" stroke="#000" stroke-width="1"/>
<line x1="21.2" y1="613.6" x2="26.8" y2="613.6" stroke="#000" stroke-width="0.9"/>
<line x1="21.2" y1="617" x2="26.8" y2="617" stroke="#000" stroke-width="0.9"/>
<line x1="20.2" y1="509.7" x2="22.8" y2="509.7" stroke="#000" stroke-width="0.9"/>
<text x="17.4" y="512.3" font-size="8" text-anchor="end">31</text>
<line x1="20.2" y1="522.28" x2="22.8" y2="522.28" stroke="#000" stroke-width="0.9"/>
<text x="17.4" y="524.88" font-size="8" text-anchor="end">29</text>
<line x1="20.2" y1="534.86" x2="22.8" y2="534.86" stroke="#000" stroke-width="0.9"/>
<text x="17.4" y="537.46" font-size="8" text-anchor="end">27</text>
<line x1="20.2" y1="547.44" x2="22.8" y2="547.44" stroke="#000" stroke-width="0.9"/>
<text x="17.4" y="550.04" font-size="8" text-anchor="end">25</text>
<line x1="20.2" y1="560.02" x2="22.8" y2="560.02" stroke="#000" stroke-width="0.9"/>
<text x="17.4" y="562.62" font-size="8" text-anchor="end">23</text>
<line x1="20.2" y1="572.6" x2="22.8" y2="572.6" stroke="#000" stroke-width="0.9"/>
<text x="17.4" y="575.2" font-size="8" text-anchor="end">21</text>
<line x1="20.2" y1="585.18" x2="22.8" y2="585.18" stroke="#000" stroke-width="0.9"/>
<text x="17.4" y="587.78" font-size="8" text-anchor="end">19</text>
<line x1="20.2" y1="597.76" x2="22.8" y2="597.76" stroke="#000" stroke-width="0.9"/>
<text x="17.4" y="600.36" font-size="8" text-anchor="end">17</text>
<line x1="20.2" y1="610.34" x2="22.8" y2="610.34" stroke="#000" stroke-width="0.9"/>
<text x="17.4" y="612.94" font-size="8" text-anchor="end">15</text>
<text x="15.4" y="624.6" font-size="8" text-anchor="end">0</text>
<line x1="22.8" y1="619.3" x2="73.3" y2="619.3" stroke="#000" stroke-width="1.3"/>
<text transform="translate(5.8,561.2) rotate(-90)" y="2.44" text-anchor="middle" textLength="100.6" lengthAdjust="spacingAndGlyphs">Serum LECT2 levels (ng/ml)</text>
<line x1="34.9" y1="527.4" x2="34.9" y2="514.7" stroke="#000" stroke-width="1.3"/>
<line x1="34" y1="514.7" x2="35.8" y2="514.7" stroke="#000" stroke-width="1.3"/>
<line x1="34.9" y1="542.5" x2="34.9" y2="560.3" stroke="#000" stroke-width="1.3"/>
<line x1="34" y1="560.3" x2="35.8" y2="560.3" stroke="#000" stroke-width="1.3"/>
<line x1="58.7" y1="578.7" x2="58.7" y2="568.6" stroke="#000" stroke-width="1.3"/>
<line x1="57.8" y1="568.6" x2="59.6" y2="568.6" stroke="#000" stroke-width="1.3"/>
<line x1="58.7" y1="591.4" x2="58.7" y2="601.5" stroke="#000" stroke-width="1.3"/>
<line x1="57.8" y1="601.5" x2="59.6" y2="601.5" stroke="#000" stroke-width="1.3"/>
<line x1="34.9" y1="527.4" x2="58.7" y2="591.4" stroke="#000" stroke-width="1.6"/>
<line x1="34.9" y1="542.5" x2="58.7" y2="578.7" stroke="#000" stroke-width="1.6"/>
<circle cx="34.9" cy="527.4" r="2" fill="#000" stroke="#000" stroke-width="0.9"/>
<circle cx="58.7" cy="591.4" r="2" fill="#000" stroke="#000" stroke-width="0.9"/>
<circle cx="34.9" cy="542.5" r="1.8" fill="#fff" stroke="#000" stroke-width="1.2"/>
<circle cx="58.7" cy="578.7" r="1.8" fill="#fff" stroke="#000" stroke-width="1.2"/>
<polyline points="34.9,513.4 34.9,510.4 68.8,510.4 68.8,594.4 63.2,594.4" fill="none" stroke="#000" stroke-width="1.3"/>
<text x="50.75" y="506.7" font-size="8" text-anchor="middle" font-weight="bold" letter-spacing="0.3">***</text>
<line x1="26.6" y1="598.6" x2="35.4" y2="598.6" stroke="#000" stroke-width="1.3"/>
<circle cx="30.7" cy="598.6" r="1.6" fill="#fff" stroke="#000" stroke-width="1.1"/>
<text x="36.2" y="601.6" font-size="8.2">Rest</text>
<line x1="26.6" y1="607.6" x2="35.4" y2="607.6" stroke="#000" stroke-width="1.3"/>
<circle cx="30.9" cy="607.6" r="1.8" fill="#000" stroke="#000" stroke-width="0.9"/>
<text x="36.4" y="610" font-size="8.2" textLength="29.6" lengthAdjust="spacingAndGlyphs">Exercise</text>
<text x="35.8" y="627.4" font-size="7.8" text-anchor="middle">0 hr</text>
<text x="62.8" y="627.4" font-size="7.8" text-anchor="middle">3 hrs</text>
<line x1="102.2" y1="508.4" x2="102.2" y2="619.95" stroke="#000" stroke-width="1.3"/>
<text x="101.6" y="603.69" font-size="8" text-anchor="end">20</text>
<text x="101.6" y="585.44" font-size="8" text-anchor="end">40</text>
<text x="101.6" y="567.19" font-size="8" text-anchor="end">60</text>
<text x="101.6" y="548.94" font-size="8" text-anchor="end">80</text>
<text x="101.6" y="530.69" font-size="8" text-anchor="end">100</text>
<text x="101.6" y="512.44" font-size="8" text-anchor="end">120</text>
<text x="99" y="621.7" font-size="8" text-anchor="end">0</text>
<line x1="102.2" y1="619.3" x2="155.6" y2="619.3" stroke="#000" stroke-width="1.3"/>
<text transform="translate(85.8,564) rotate(-90)" y="2.44" text-anchor="middle" textLength="98.6" lengthAdjust="spacingAndGlyphs">Serum LECT2 (% of basal)</text>
<line x1="134.4" y1="544.6" x2="134.4" y2="535.7" stroke="#000" stroke-width="1.3"/>
<line x1="133.4" y1="535.7" x2="135.4" y2="535.7" stroke="#000" stroke-width="1.3"/>
<line x1="134.4" y1="559.7" x2="134.4" y2="567.1" stroke="#000" stroke-width="1.3"/>
<line x1="133.4" y1="567.1" x2="135.4" y2="567.1" stroke="#000" stroke-width="1.3"/>
<line x1="113.6" y1="526.6" x2="134.4" y2="544.6" stroke="#000" stroke-width="1.6"/>
<line x1="113.6" y1="528.6" x2="134.4" y2="559.7" stroke="#000" stroke-width="1.6"/>
<circle cx="113.6" cy="528.6" r="2" fill="#000" stroke="#000" stroke-width="0.9"/>
<circle cx="113.6" cy="526.4" r="1.8" fill="#fff" stroke="#000" stroke-width="1.2"/>
<circle cx="134.4" cy="544.6" r="1.8" fill="#fff" stroke="#000" stroke-width="1.2"/>
<circle cx="134.4" cy="559.7" r="2" fill="#000" stroke="#000" stroke-width="0.9"/>
<polyline points="140.7,544.6 147,544.6 147,559.7 140.7,559.7" fill="none" stroke="#000" stroke-width="1.3"/>
<text x="151.6" y="555.62" text-anchor="middle" font-weight="bold">*</text>
<line x1="106.6" y1="598.9" x2="114.9" y2="598.9" stroke="#000" stroke-width="1.3"/>
<circle cx="110.6" cy="598.9" r="1.5" fill="#fff" stroke="#000" stroke-width="1"/>
<text x="115.6" y="601.4" font-size="8">Rest</text>
<line x1="106.6" y1="607.2" x2="114.9" y2="607.2" stroke="#000" stroke-width="1.3"/>
<circle cx="110.6" cy="607.2" r="1.7" fill="#000" stroke="#000" stroke-width="0.9"/>
<text x="115.8" y="609.6" font-size="8" textLength="28" lengthAdjust="spacingAndGlyphs">Exercise</text>
<text x="114.9" y="627.4" font-size="7.8" text-anchor="middle">0 hr</text>
<text x="135" y="627.4" font-size="7.8" text-anchor="middle">3 hrs</text>
</g>
<!-- panel_L -->
<g>
<text x="154.8" y="491.1" font-size="15.4" font-weight="bold" font-family="'Liberation Sans',Arial,sans-serif">L</text>
<text x="243.2" y="487.8" text-anchor="middle" textLength="43.5" lengthAdjust="spacingAndGlyphs">Mouse Liver</text>
<text x="170.5" y="497.6" textLength="34.6" lengthAdjust="spacingAndGlyphs">pAMPKα</text>
<text x="170.5" y="507.8" textLength="31.2" lengthAdjust="spacingAndGlyphs">(Thr172)</text>
<text x="170.5" y="520.6" textLength="30" lengthAdjust="spacingAndGlyphs">AMPKα</text>
<rect x="210.2" y="491.9" width="62.4" height="15.5" fill="#f1f1f1"/>
<rect x="212.6" y="497.1" width="14.4" height="3.6" rx="1.8" fill="rgb(114,114,114)" filter="url(#b08)"/>
<rect x="229.4" y="497.1" width="13.4" height="3.6" rx="1.8" fill="rgb(114,114,114)" filter="url(#b08)"/>
<rect x="244.6" y="497" width="13" height="4.4" rx="2.2" fill="rgb(38,38,38)" filter="url(#b08)"/>
<rect x="259.6" y="496.6" width="12.2" height="5.2" rx="2.6" fill="rgb(7,7,7)" filter="url(#b08)"/>
<rect x="210.2" y="491.9" width="62.4" height="15.5" fill="none" stroke="#000" stroke-width="1.1"/>
<rect x="210.2" y="509.9" width="62.4" height="15.2" fill="#f1f1f1"/>
<rect x="212.6" y="515.9" width="14.8" height="4.2" rx="2.1" fill="rgb(30,30,30)" filter="url(#b08)"/>
<rect x="229.2" y="516.1" width="13.6" height="4.2" rx="2.1" fill="rgb(30,30,30)" filter="url(#b08)"/>
<rect x="244.6" y="515.9" width="13" height="4.2" rx="2.1" fill="rgb(30,30,30)" filter="url(#b08)"/>
<rect x="259.6" y="516" width="11.8" height="4" rx="2" fill="rgb(71,71,71)" filter="url(#b08)"/>
<rect x="210.2" y="509.9" width="62.4" height="15.2" fill="none" stroke="#000" stroke-width="1.1"/>
<line x1="210.2" y1="527.5" x2="241.4" y2="527.5" stroke="#000" stroke-width="1.5"/>
<line x1="244.2" y1="527.5" x2="272.6" y2="527.5" stroke="#000" stroke-width="1.5"/>
<text x="227.4" y="536.3" text-anchor="middle">Rest</text>
<text x="257.7" y="536.3" text-anchor="middle" textLength="28.6" lengthAdjust="spacingAndGlyphs">Exercise</text>
<line x1="200.6" y1="544.6" x2="200.6" y2="620.65" stroke="#000" stroke-width="1.3"/>
<text x="200" y="592.57" text-anchor="end">1.0</text>
<text x="200" y="562.37" text-anchor="end">2.0</text>
<text x="198.2" y="622.2" text-anchor="end">0</text>
<line x1="200.6" y1="620" x2="281.5" y2="620" stroke="#000" stroke-width="1.4"/>
<line x1="224.5" y1="587.1" x2="224.5" y2="589.3" stroke="#000" stroke-width="1.3"/>
<line x1="223.2" y1="587.1" x2="225.8" y2="587.1" stroke="#000" stroke-width="1"/>
<rect x="219.35" y="589.95" width="10.3" height="30.05" fill="#fff" stroke="#000" stroke-width="1.3"/>
<line x1="236.25" y1="561.3" x2="236.25" y2="564.8" stroke="#000" stroke-width="1.3"/>
<line x1="234.95" y1="561.3" x2="237.55" y2="561.3" stroke="#000" stroke-width="1"/>
<rect x="229.8" y="564.8" width="12.4" height="55.2" fill="#000"/>
<text x="238.05" y="559.38" font-size="7.6" text-anchor="middle" font-weight="bold" letter-spacing="0.3">**</text>
<text transform="translate(176.4,579.4) rotate(-90)" y="2.44" text-anchor="middle" textLength="75" lengthAdjust="spacingAndGlyphs">Relative densitometry</text>
<text transform="translate(186,580.4) rotate(-90)" y="2.44" text-anchor="middle" textLength="62" lengthAdjust="spacingAndGlyphs">(pAMPK/AMPK)</text>
<rect x="246.85" y="587.15" width="7.6" height="7.5" fill="#fff" stroke="#000" stroke-width="1.3"/>
<rect x="246.2" y="598.1" width="8.9" height="8.8" fill="#000"/>
<text x="256.5" y="593.3" font-size="8.2">Rest</text>
<text x="256.7" y="605.3" font-size="8.2" textLength="29" lengthAdjust="spacingAndGlyphs">Exercise</text>
</g>
<!-- panel_M -->
<g>
<text x="284.6" y="490.8" font-size="15.4" font-weight="bold" font-family="'Liberation Sans',Arial,sans-serif">M</text>
<line x1="320.4" y1="498.3" x2="320.4" y2="622.85" stroke="#000" stroke-width="1.3"/>
<text x="318.6" y="543.77" text-anchor="end">1.0</text>
<text x="318.6" y="584.37" text-anchor="end">0.5</text>
<text x="317.2" y="623.2" text-anchor="end">0</text>
<line x1="320.4" y1="622.2" x2="387.5" y2="622.2" stroke="#000" stroke-width="1.3"/>
<line x1="336.45" y1="533.5" x2="336.45" y2="540.9" stroke="#000" stroke-width="1.3"/>
<line x1="335.15" y1="533.5" x2="337.75" y2="533.5" stroke="#000" stroke-width="1"/>
<rect x="331.15" y="541.55" width="10.6" height="80.65" fill="#fff" stroke="#000" stroke-width="1.3"/>
<line x1="348.35" y1="558.7" x2="348.35" y2="561.3" stroke="#000" stroke-width="1.3"/>
<line x1="347.05" y1="558.7" x2="349.65" y2="558.7" stroke="#000" stroke-width="1"/>
<rect x="341.7" y="561.3" width="12.8" height="60.9" fill="#000"/>
<text x="350.4" y="557.22" text-anchor="middle" font-weight="bold">*</text>
<line x1="366.75" y1="536" x2="366.75" y2="540.9" stroke="#000" stroke-width="1.3"/>
<line x1="365.45" y1="536" x2="368.05" y2="536" stroke="#000" stroke-width="1"/>
<rect x="361.35" y="541.55" width="10.8" height="80.65" fill="#fff" stroke="#000" stroke-width="1.3"/>
<line x1="378.75" y1="555" x2="378.75" y2="557.1" stroke="#000" stroke-width="1.3"/>
<line x1="377.45" y1="555" x2="380.05" y2="555" stroke="#000" stroke-width="1"/>
<rect x="372" y="557.1" width="13" height="65.1" fill="#000"/>
<text x="382" y="555.02" text-anchor="middle" font-weight="bold">*</text>
<rect x="332.55" y="500.25" width="8" height="7.3" fill="#fff" stroke="#000" stroke-width="1.3"/>
<rect x="331.9" y="511" width="9.3" height="9" fill="#000"/>
<text x="341.5" y="506.6" font-size="8.2" textLength="31.6" lengthAdjust="spacingAndGlyphs">Ad-LacZ</text>
<text x="341.5" y="517.6" font-size="8.2" textLength="53" lengthAdjust="spacingAndGlyphs">Ad-CA-AMPK</text>
<text x="334.9" y="630" font-size="7.8" font-weight="bold" font-style="italic" textLength="17" lengthAdjust="spacingAndGlyphs">Lect2</text>
<text x="362.4" y="630" font-size="7.8" font-weight="bold" font-style="italic" textLength="16" lengthAdjust="spacingAndGlyphs">G6pc</text>
<text transform="translate(294.3,560) rotate(-90)" y="2.44" text-anchor="middle" textLength="80.5" lengthAdjust="spacingAndGlyphs">Relative mRNA levels</text>
<text transform="translate(303.2,559) rotate(-90)" y="2.44" text-anchor="middle" textLength="82.5" lengthAdjust="spacingAndGlyphs">normalized to <tspan font-style="italic">18srRNA</tspan></text>
</g>
<!-- panel_N -->
<g>
<text x="404.5" y="490.8" font-size="15.4" font-weight="bold" font-family="'Liberation Sans',Arial,sans-serif">N</text>
<line x1="441.3" y1="502.1" x2="441.3" y2="622.35" stroke="#000" stroke-width="1.3"/>
<text x="440.3" y="600.77" text-anchor="end">5.0</text>
<text x="440.3" y="577.07" text-anchor="end">10.0</text>
<text x="440.3" y="553.37" text-anchor="end">15.0</text>
<text x="440.3" y="529.67" text-anchor="end">20.0</text>
<text x="437.9" y="622.9" text-anchor="end">0</text>
<line x1="441.3" y1="621.7" x2="520" y2="621.7" stroke="#000" stroke-width="1.3"/>
<line x1="458.9" y1="615.9" x2="458.9" y2="617.2" stroke="#000" stroke-width="1.3"/>
<line x1="457.6" y1="615.9" x2="460.2" y2="615.9" stroke="#000" stroke-width="1"/>
<rect x="453.85" y="617.85" width="10.1" height="3.85" fill="#fff" stroke="#000" stroke-width="1.3"/>
<line x1="470.55" y1="603.2" x2="470.55" y2="606.5" stroke="#000" stroke-width="1.3"/>
<line x1="469.25" y1="603.2" x2="471.85" y2="603.2" stroke="#000" stroke-width="1"/>
<rect x="464.1" y="606.5" width="12.4" height="15.2" fill="#000"/>
<text x="475.65" y="601.19" font-size="7.8" text-anchor="middle" font-weight="bold" letter-spacing="0.3">***</text>
<line x1="492.4" y1="616.2" x2="492.4" y2="617.2" stroke="#000" stroke-width="1.3"/>
<line x1="491.1" y1="616.2" x2="493.7" y2="616.2" stroke="#000" stroke-width="1"/>
<rect x="487.25" y="617.85" width="10.3" height="3.85" fill="#fff" stroke="#000" stroke-width="1.3"/>
<line x1="504.5" y1="513.5" x2="504.5" y2="520.1" stroke="#000" stroke-width="1.3"/>
<line x1="503.2" y1="513.5" x2="505.8" y2="513.5" stroke="#000" stroke-width="1"/>
<rect x="497.7" y="520.1" width="13.1" height="101.6" fill="#000"/>
<text x="512.85" y="515.69" font-size="7.8" text-anchor="middle" font-weight="bold" letter-spacing="0.3">***</text>
<rect x="444.95" y="491.05" width="7.6" height="7.6" fill="#fff" stroke="#000" stroke-width="1.3"/>
<rect x="444.3" y="501.7" width="8.9" height="8.2" fill="#000"/>
<text x="456.6" y="497" font-size="8.2" textLength="25.4" lengthAdjust="spacingAndGlyphs">Ad-null</text>
<text x="456.6" y="508.4" font-size="8.2" textLength="52.2" lengthAdjust="spacingAndGlyphs">Ad-DN-AMPK</text>
<text x="457.9" y="630" font-size="7.8" font-weight="bold" font-style="italic" textLength="17.2" lengthAdjust="spacingAndGlyphs">Lect2</text>
<text x="488.7" y="630" font-size="7.8" font-weight="bold" font-style="italic" textLength="16" lengthAdjust="spacingAndGlyphs">G6pc</text>
<text transform="translate(410.9,567.8) rotate(-90)" y="2.44" text-anchor="middle" textLength="83" lengthAdjust="spacingAndGlyphs">Relative mRNA levels</text>
<text transform="translate(419.7,569) rotate(-90)" y="2.44" text-anchor="middle" textLength="85.5" lengthAdjust="spacingAndGlyphs">normalized to <tspan font-style="italic">18srRNA</tspan></text>
</g>
</g>
</svg>
</body>
</html>
